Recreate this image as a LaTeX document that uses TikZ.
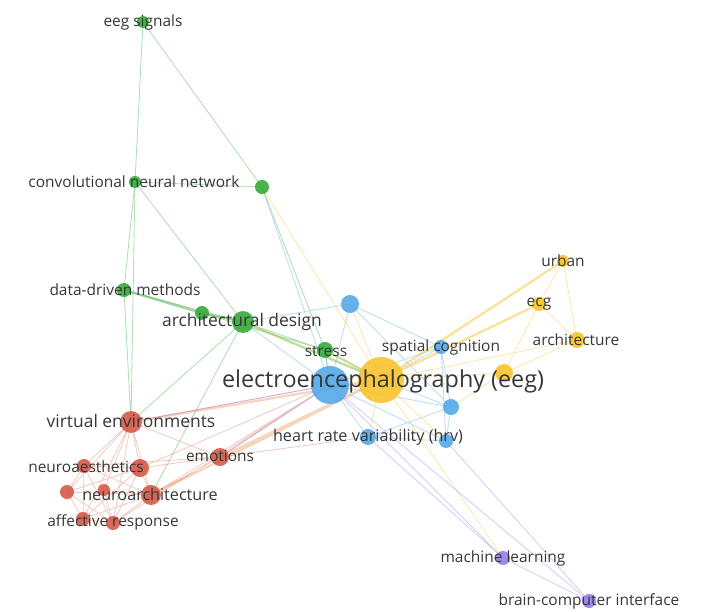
\documentclass[tikz,border=0pt]{standalone}
\usepackage{fontspec}
\setmainfont{Open Sans}
\usepackage{tikz}
\usetikzlibrary{backgrounds}
\usepackage{xcolor}
\definecolor{vgreen}{RGB}{58,172,62}
\definecolor{vblue}{RGB}{88,170,232}
\definecolor{vyellow}{RGB}{248,196,50}
\definecolor{vred}{RGB}{214,92,76}
\definecolor{vpurple}{RGB}{150,128,236}
\definecolor{labelgray}{RGB}{55,55,55}

\begin{document}
\begin{tikzpicture}[x=0.025cm,y=-0.025cm,line cap=round,
  dot/.style={circle,inner sep=0pt,minimum size=#1,fill opacity=0.92},
  gdot/.style={dot=#1,fill=vgreen},
  bdot/.style={dot=#1,fill=vblue},
  ydot/.style={dot=#1,fill=vyellow},
  rdot/.style={dot=#1,fill=vred},
  pdot/.style={dot=#1,fill=vpurple},
  lbl/.style={text=labelgray,inner sep=0pt,font=\fontsize{11}{13}\selectfont},
  lblmid/.style={lbl,font=\fontsize{11.5}{13}\selectfont},
  lblbig/.style={lbl,font=\fontsize{12.4}{14}\selectfont},
  lblhuge/.style={lbl,font=\fontsize{16.6}{19}\selectfont},
  edge/.style={line width=0.6pt,draw opacity=0.4},
  gedge/.style={edge,draw=vgreen},
  bedge/.style={edge,draw=vblue},
  yedge/.style={edge,draw=vyellow},
  redge/.style={edge,draw=vred!80},
  pedge/.style={edge,draw=vpurple},
  thickedge/.style={line width=1.6pt,draw opacity=0.5}]
\useasboundingbox (0,0) rectangle (724,612);
% green cluster
\node[gdot=8.5pt] (eegsig) at (143,22) {};
\node[gdot=8.5pt] (cnn) at (135,182) {};
\node[gdot=10pt] (gx) at (262,187) {};
\node[gdot=10pt] (ddm) at (124,290) {};
\node[gdot=10pt] (gy) at (202,313) {};
\node[gdot=15.6pt] (archd) at (243,322) {};
\node[gdot=11.4pt] (stress) at (325,350) {};
% blue cluster
\node[bdot=12.8pt] (bx) at (350,304) {};
\node[bdot=27pt] (bbig) at (330,385) {};
\node[bdot=10pt] (spatial) at (441,347) {};
\node[bdot=11.4pt] (bz) at (451,407) {};
\node[bdot=11.4pt] (hrv) at (368,437) {};
\node[bdot=10pt] (bw) at (446,441) {};
% yellow cluster
\node[ydot=32.7pt] (ybig) at (381,380) {};
\node[ydot=12.8pt] (yx) at (504,373) {};
\node[ydot=8.5pt] (urban) at (563,261) {};
\node[ydot=10pt] (ecg) at (539,304) {};
\node[ydot=11.4pt] (arch) at (577,340) {};
% red cluster
\node[rdot=15.6pt] (venv) at (131,422) {};
\node[rdot=12.8pt] (emo) at (220,457) {};
\node[rdot=10pt] (naes) at (84,466) {};
\node[rdot=12.8pt] (rx) at (140,468) {};
\node[rdot=10pt] (ry) at (67,492) {};
\node[rdot=8.5pt] (rz) at (104,490) {};
\node[rdot=14.2pt] (narch) at (151,495) {};
\node[rdot=10pt] (af1) at (83,519) {};
\node[rdot=10pt] (af2) at (113,523) {};
% purple cluster
\node[pdot=10pt] (ml) at (503,558) {};
\node[pdot=10pt] (bci) at (589,601) {};
% links
\begin{scope}[on background layer]
\draw[gedge] (eegsig.center) -- (cnn.center) (eegsig.center) -- (gx.center)
  (cnn.center) -- (gx.center) (cnn.center) -- (ddm.center)
  (cnn.center) -- (archd.center) (cnn.center) -- (venv.center)
  (gx.center) -- (stress.center) (ddm.center) -- (archd.center)
  (ddm.center) -- (venv.center) (archd.center) -- (stress.center)
  (gy.center) -- (stress.center) (archd.center) -- (venv.center)
  (stress.center) -- (bbig.center) (archd.center) -- (narch.center);
\draw[gedge,thickedge] (ddm.center) -- (gy.center) -- (archd.center);
\draw[gedge,thickedge,draw=vgreen!60!vyellow] (archd.center) -- (ybig.center);
\draw[gedge,thickedge,draw=vgreen!50!vyellow] (stress.center) -- (ybig.center);
\draw[bedge] (gx.center) -- (bbig.center) (archd.center) -- (bx.center)
  (archd.center) -- (bbig.center) (bbig.center) -- (bx.center)
  (bbig.center) -- (spatial.center) (bbig.center) -- (bz.center)
  (bbig.center) -- (hrv.center) (bbig.center) -- (bw.center)
  (bx.center) -- (bz.center) (bx.center) -- (spatial.center)
  (spatial.center) -- (bz.center) (spatial.center) -- (bw.center)
  (bz.center) -- (bw.center) (hrv.center) -- (bz.center)
  (hrv.center) -- (bw.center) (spatial.center) -- (ybig.center)
  (bz.center) -- (ybig.center) (bbig.center) -- (stress.center);
\draw[yedge] (gx.center) -- (ybig.center) (bx.center) -- (ybig.center)
  (ybig.center) -- (yx.center) (ybig.center) -- (arch.center)
  (yx.center) -- (ecg.center) (yx.center) -- (arch.center)
  (ecg.center) -- (urban.center) (ecg.center) -- (arch.center)
  (urban.center) -- (arch.center) (ybig.center) -- (hrv.center)
  (ybig.center) -- (bw.center) (ybig.center) -- (ml.center)
  (ybig.center) -- (bbig.center) (yx.center) -- (bz.center);
\draw[yedge,thickedge] (ybig.center) -- (urban.center)
  (ybig.center) -- (ecg.center);
\draw[redge] (venv.center) -- (naes.center) (venv.center) -- (rx.center)
  (venv.center) -- (ry.center) (venv.center) -- (rz.center)
  (venv.center) -- (narch.center) (venv.center) -- (af1.center)
  (venv.center) -- (af2.center) (venv.center) -- (emo.center)
  (venv.center) -- (bbig.center) (naes.center) -- (rx.center)
  (naes.center) -- (ry.center) (naes.center) -- (narch.center)
  (naes.center) -- (af1.center) (naes.center) -- (af2.center)
  (naes.center) -- (emo.center) (rx.center) -- (ry.center)
  (rx.center) -- (narch.center) (rx.center) -- (af1.center)
  (rx.center) -- (af2.center) (rx.center) -- (emo.center)
  (ry.center) -- (narch.center) (ry.center) -- (af1.center)
  (ry.center) -- (af2.center) (rz.center) -- (narch.center)
  (rz.center) -- (af2.center) (narch.center) -- (af1.center)
  (narch.center) -- (af2.center) (af1.center) -- (af2.center)
  (narch.center) -- (emo.center) (emo.center) -- (bbig.center)
  (emo.center) -- (hrv.center) (narch.center) -- (bbig.center)
  (rx.center) -- (bbig.center) (af2.center) -- (bbig.center);
\draw[redge,thickedge,draw=vred!60!vyellow,draw opacity=0.35] (emo.center) -- (ybig.center)
  (narch.center) -- (ybig.center) (venv.center) -- (ybig.center);
\draw[pedge] (ml.center) -- (bci.center) (ml.center) -- (hrv.center)
  (ml.center) -- (bbig.center) (bci.center) -- (bw.center)
  (bci.center) -- (bbig.center) (venv.center) -- (bbig.center)
  (emo.center) -- (bbig.center);
\end{scope}
% labels
\node[lbl] (eegsig-l) at (eegsig) {eeg signals};
\node[lbl] (cnn-l) at (134,182) {convolutional neural network};
\node[lbl] (ddm-l) at (125,290) {data-driven methods};
\node[lblbig] (archd-l) at (242,322) {architectural design};
\node[lbl] (stress-l) at (326,351) {stress};
\node[lbl] (spatial-l) at (441,347) {spatial cognition};
\node[lblhuge] (eeg-l) at (383,381) {electroencephalography (eeg)};
\node[lblmid] (hrv-l) at (368,437) {heart rate variability (hrv)};
\node[lbl] (urban-l) at (urban) {urban};
\node[lbl] (ecg-l) at (ecg) {ecg};
\node[lbl] (arch-l) at (576,340) {architecture};
\node[lblbig] (venv-l) at (131,421) {virtual environments};
\node[lbl] (emo-l) at (220,456) {emotions};
\node[lbl] (naes-l) at (86,467) {neuroaesthetics};
\node[lblmid] (narch-l) at (150,494) {neuroarchitecture};
\node[lbl] (af-l) at (113,522) {affective response};
\node[lbl] (ml-l) at (ml) {machine learning};
\node[lbl] (bci-l) at (bci) {brain-computer interface};
\end{tikzpicture}
\end{document}
